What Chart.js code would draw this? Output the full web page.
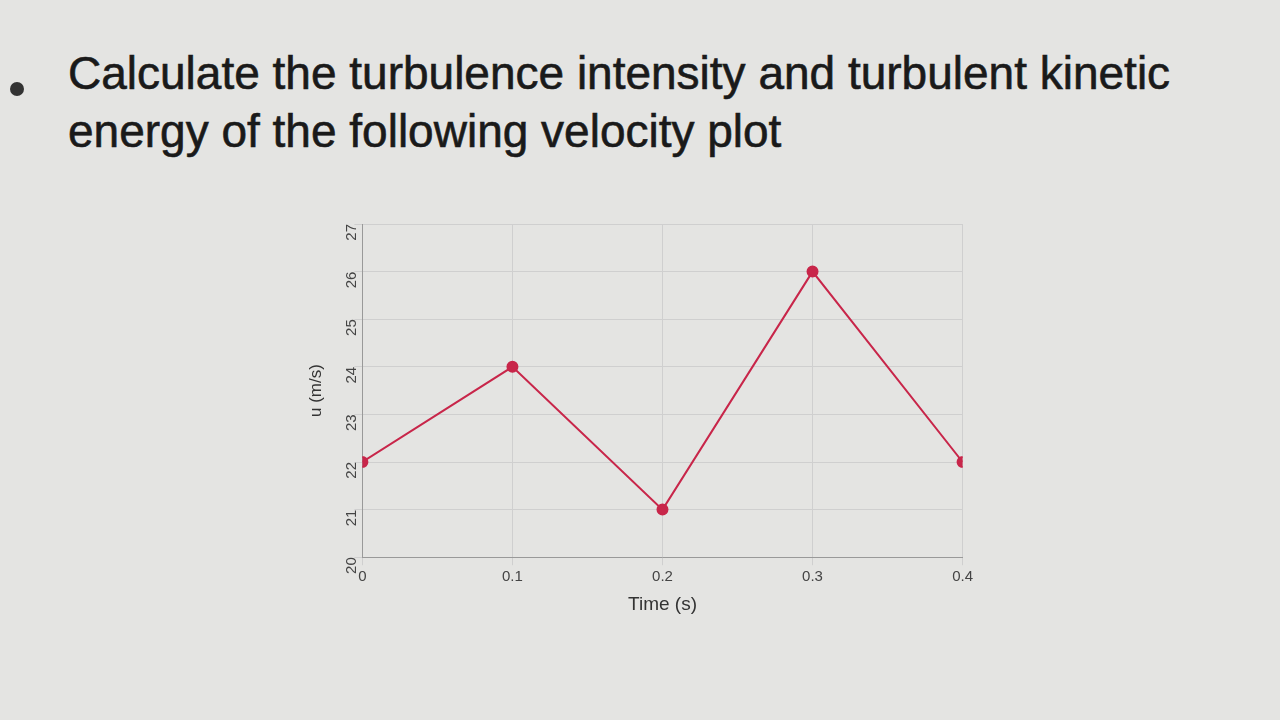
<!DOCTYPE html>
<html>
<head>
<meta charset="utf-8">
<script src="https://cdn.jsdelivr.net/npm/chart.js@4"></script>
<style>
  body { margin: 0; width: 1280px; height: 720px; background: #e4e4e2; font-family: "Liberation Sans", Arial, sans-serif; overflow: hidden; position: relative; }
  #title { position: absolute; left: 68px; top: 44px; font-size: 46px; line-height: 58px; color: #1a1a1a; -webkit-text-stroke: 0.6px #1a1a1a; }
  #bullet { position: absolute; left: 10px; top: 82px; width: 14px; height: 14px; border-radius: 50%; background: #333; }
  #wrap { position: absolute; left: 302px; top: 212px; width: 674px; height: 408px; }
</style>
</head>
<body>
<div id="bullet"></div>
<div id="title">Calculate the turbulence intensity and turbulent kinetic<br>energy of the following velocity plot</div>
<div id="wrap"><canvas id="velocityChart"></canvas></div>
<script>
// Zeit (s) und Geschwindigkeit (m/s)
const times = [0, 0.1, 0.2, 0.3, 0.4];
const velocities = [22, 24, 21, 26, 22];

const points = times.map((t, i) => ({ x: t, y: velocities[i] }));

new Chart(document.getElementById('velocityChart').getContext('2d'), {
    type: 'line',
    data: {
        datasets: [{
            data: points,
            borderColor: '#c8264a',
            backgroundColor: '#c8264a',
            borderWidth: 2,
            pointRadius: 5,
            tension: 0
        }]
    },
    options: {
        responsive: true,
        maintainAspectRatio: false,
        animation: false,
        plugins: { legend: { display: false }, tooltip: { enabled: false } },
        scales: {
            x: {
                type: 'linear',
                min: 0, max: 0.4,
                ticks: { stepSize: 0.1, color: '#444', font: { size: 15 } },
                grid: { color: '#cfcfcf' },
                border: { color: '#999' },
                title: { display: true, text: 'Time (s)', color: '#333', font: { size: 19 } }
            },
            y: {
                min: 20, max: 27,
                ticks: { stepSize: 1, color: '#444', font: { size: 15 }, minRotation: 90, maxRotation: 90 },
                grid: { color: '#cfcfcf' },
                border: { color: '#999' },
                title: { display: true, text: 'u (m/s)', color: '#333', font: { size: 17 } }
            }
        }
    }
});
</script>
</body>
</html>
